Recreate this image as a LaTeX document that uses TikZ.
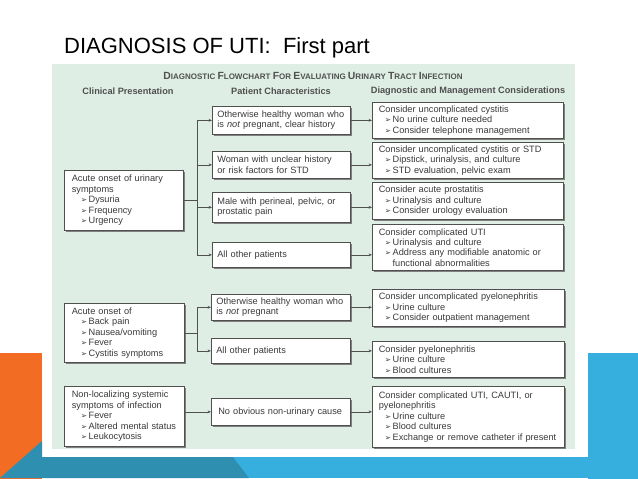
\documentclass[tikz,border=0pt]{standalone}
\usepackage{fontspec}
\setmainfont{Liberation Sans}
\newfontfamily\dejavu{DejaVu Sans}
\usetikzlibrary{shadows,arrows.meta}

\definecolor{panel}{RGB}{223,238,229}
\definecolor{txt}{RGB}{58,58,58}
\definecolor{hdr}{RGB}{80,80,80}
\definecolor{bord}{RGB}{80,80,80}
\definecolor{orng}{RGB}{242,108,35}
\definecolor{lblue}{RGB}{54,175,222}
\definecolor{dteal}{RGB}{47,143,176}

\newcommand\bul{{\dejavu\fontsize{7.5}{6}\selectfont ➢}}
\newcommand\bi[1]{\\\hspace*{6pt}\bul\hspace{1.5pt}#1}
\newcommand\ba[1]{\\\hspace*{9pt}\bul\hspace{1.5pt}#1}
\newcommand\bcont{\\\hspace*{6pt}\phantom{\bul}\hspace{1.5pt}}
\newcommand\scw[2]{{\fontsize{10.4}{11}\selectfont #1}{\fontsize{8}{11}\selectfont #2}}

\tikzset{
  box/.style={draw=bord, line width=0.7pt, fill=white, text=txt, align=left,
    anchor=north west, inner xsep=5pt, inner ysep=0pt,
    font=\fontsize{9.2}{10.4}\selectfont,
    drop shadow={shadow xshift=1.4pt, shadow yshift=-1.4pt, fill=black!50, opacity=1}},
  abox/.style={box, inner xsep=7.5pt},
  cbox/.style={box, inner xsep=6.5pt},
  arr/.style={draw=bord, line width=0.6pt, -{Stealth[length=3.4pt,width=2.8pt]}},
  colhead/.style={font=\bfseries\fontsize{9.2}{10}\selectfont, text=hdr, inner sep=0pt},
}

\begin{document}
\begin{tikzpicture}[x=1pt,y=-1pt]
\useasboundingbox (0,0) rectangle (638,479);
\fill[white] (0,0) rectangle (638,479);

% slide decoration
\fill[orng] (0,353) rectangle (42,479);
\fill[lblue] (588,353) rectangle (638,479);
\fill[lblue] (42,457) rectangle (638,478);
\fill[dteal] (0,478) -- (42,441) -- (42,457) -- (233,457) -- (249,478) -- cycle;

% panel
\fill[panel] (52,64) rectangle (575,449);

% title
\node[anchor=base west, font=\fontsize{22}{22}\selectfont, inner sep=0pt] (title) at (64,53) {DIAGNOSIS OF UTI:\ \ First part};

% headers
\node[font=\bfseries\fontsize{8}{11}\selectfont, text=hdr, inner sep=0pt] (hd) at (313,76)
  {\scw{D}{IAGNOSTIC} \scw{F}{LOWCHART} \scw{F}{OR} \scw{E}{VALUATING} \scw{U}{RINARY} \scw{T}{RACT} \scw{I}{NFECTION}};
\node[colhead] (h1) at (128,91) {Clinical Presentation};
\node[colhead] (h2) at (281,91) {Patient Characteristics};
\node[colhead] (h3) at (468,91) {Diagnostic and Management Considerations};

% column 1
\node[abox, text width=104pt, minimum height=60pt] (A1) at (64,170)
  {Acute onset of urinary\\symptoms\ba{Dysuria}\ba{Frequency}\ba{Urgency}};
\node[abox, text width=105pt, minimum height=59pt] (A2) at (64,303)
  {Acute onset of\ba{Back pain}\ba{Nausea/vomiting}\ba{Fever}\ba{Cystitis symptoms}};
\node[abox, text width=105pt, minimum height=60pt] (A3) at (64,386)
  {Non-localizing systemic\\symptoms of infection\ba{Fever}\ba{Altered mental status}\ba{Leukocytosis}};

% column 2
\node[box, text width=128pt, minimum height=28pt] (B1) at (212,106)
  {\mbox{Otherwise healthy woman who}\\is \textit{not} pregnant, clear history};
\node[box, text width=128pt, minimum height=27pt] (B2) at (212,151)
  {Woman with unclear history\\or risk factors for STD};
\node[box, text width=128pt, minimum height=30pt] (B3) at (212,192)
  {Male with perineal, pelvic, or\\prostatic pain};
\node[box, text width=128pt, minimum height=25pt] (B4) at (212,242)
  {All other patients};
\node[box, text width=129pt, minimum height=26pt] (B5) at (211,294)
  {\mbox{Otherwise healthy woman who}\\is \textit{not} pregnant};
\node[box, text width=129pt, minimum height=25pt] (B6) at (211,338)
  {All other patients};
\node[box, text width=129pt, minimum height=27pt] (B7) at (211,398)
  {\hspace*{2pt}No obvious non-urinary cause};

% column 3
\node[cbox, text width=178pt, minimum height=36pt] (C1) at (372,102)
  {Consider uncomplicated cystitis\bi{No urine culture needed}\bi{Consider telephone management}};
\node[cbox, text width=178pt, minimum height=36pt] (C2) at (372,142)
  {Consider uncomplicated cystitis or STD\bi{Dipstick, urinalysis, and culture}\bi{STD evaluation, pelvic exam}};
\node[cbox, text width=178pt, minimum height=37pt] (C3) at (372,182)
  {Consider acute prostatitis\bi{Urinalysis and culture}\bi{Consider urology evaluation}};
\node[cbox, text width=178pt, minimum height=46pt] (C4) at (372,224)
  {Consider complicated UTI\bi{Urinalysis and culture}\bi{Address any modifiable anatomic or}\bcont functional abnormalities};
\node[cbox, text width=179pt, minimum height=37pt] (C5) at (372,289)
  {Consider uncomplicated pyelonephritis\bi{Urine culture}\bi{Consider outpatient management}};
\node[cbox, text width=179pt, minimum height=36pt] (C6) at (372,341)
  {Consider pyelonephritis\bi{Urine culture}\bi{Blood cultures}};
\node[cbox, text width=179pt, minimum height=61pt] (C7) at (372,386)
  {Consider complicated UTI, CAUTI, or\\pyelonephritis\bi{Urine culture}\bi{Blood cultures}\bi{Exchange or remove catheter if present}};

% trunk coordinate
\coordinate (t1) at (197,0);

% connectors
\foreach \b in {B1,B2,B3,B4}
  \draw[arr] (A1.east) -- (A1.east -| t1) |- (\b.west);
\foreach \b in {B5,B6}
  \draw[arr] (A2.east) -- (A2.east -| t1) |- (\b.west);
\draw[arr] (B7.west -| A3.east) -- (B7.west);

\draw[arr] (B1.east) -- (B1.east -| C1.west);
\draw[arr] (B2.east) -- (B2.east -| C2.west);
\draw[arr] (B3.east) -- (B3.east -| C3.west);
\draw[arr] (B4.east) -- (B4.east -| C4.west);
\draw[arr] (B5.east) -- (B5.east -| C5.west);
\draw[arr] (B6.east) -- (B6.east -| C6.west);
\draw[arr] (B7.east) -- (B7.east -| C7.west);
\end{tikzpicture}
\end{document}
